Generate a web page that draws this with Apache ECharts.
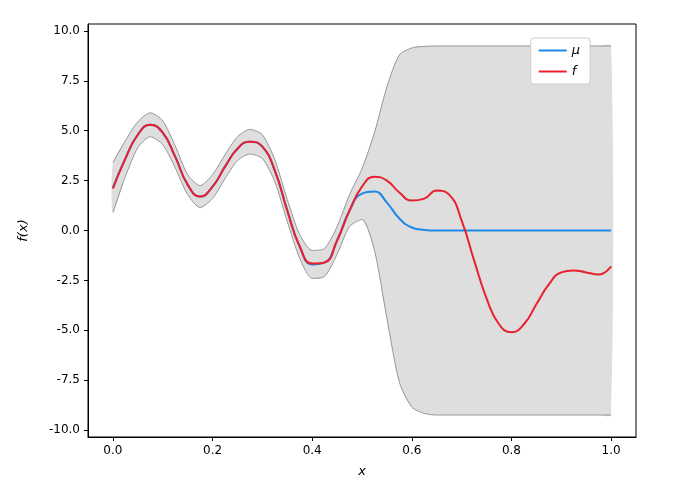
<!DOCTYPE html>
<html><head><meta charset="utf-8">
<script src="https://cdn.jsdelivr.net/npm/echarts@6/dist/echarts.min.js"></script>
<style>body{margin:0}#c{width:676px;height:493px}</style></head>
<body><div id="c"></div>
<script>
const xs = [0,0.025,0.05,0.075,0.1,0.125,0.15,0.175,0.2,0.225,0.25,0.275,0.3,0.325,0.35,0.375,0.4,0.425,0.45,0.475,0.5,0.525,0.55,0.575,0.6,0.625,0.65,0.675,0.7,0.725,0.75,0.775,0.8,0.825,0.85,0.875,0.9,0.925,0.95,0.975,1.0];
const fVals = [2.1,3.6,4.8,5.3,4.9,3.7,2.3,1.7,2.2,3.2,4.1,4.45,4.2,3.0,1.0,-0.8,-1.65,-1.6,-0.5,1.0,2.2,2.7,2.5,1.9,1.5,1.6,2.0,1.8,0.5,-1.5,-3.4,-4.7,-5.1,-4.7,-3.7,-2.7,-2.1,-2.0,-2.1,-2.2,-1.8];
const muVals = [2.15,3.6,4.8,5.3,4.9,3.7,2.3,1.7,2.2,3.2,4.1,4.45,4.2,3.0,1.0,-0.8,-1.7,-1.6,-0.5,1.0,1.85,1.95,1.4,0.6,0.15,0.03,0,0,0,0,0,0,0,0,0,0,0,0,0,0,0];
const upperVals = [3.4,4.5,5.45,5.9,5.5,4.25,2.8,2.25,2.8,3.8,4.7,5.07,4.8,3.55,1.55,-0.2,-1.0,-0.9,0.2,1.8,3.1,4.9,7.2,8.8,9.15,9.23,9.25,9.25,9.25,9.25,9.25,9.25,9.25,9.25,9.25,9.25,9.25,9.25,9.25,9.25,9.25];
const lowerVals = [0.9,2.7,4.15,4.7,4.3,3.15,1.8,1.15,1.6,2.6,3.5,3.83,3.6,2.45,0.45,-1.4,-2.4,-2.3,-1.2,0.2,0.55,-1.0,-4.4,-7.6,-8.85,-9.17,-9.25,-9.25,-9.25,-9.25,-9.25,-9.25,-9.25,-9.25,-9.25,-9.25,-9.25,-9.25,-9.25,-9.25,-9.25];
const xTicks = [0,0.2,0.4,0.6,0.8,1.0];
const yTicks = [-10,-7.5,-5,-2.5,0,2.5,5,7.5,10];
const pair = a => xs.map((x,i)=>[x,a[i]]);
const tf = 'DejaVu Sans';
const chart = echarts.init(document.getElementById('c'));
chart.setOption({
  animation:false,
  textStyle:{fontFamily:tf},
  grid:{left:88,right:40,top:24,bottom:56,show:true,borderColor:'#000',borderWidth:1,backgroundColor:'transparent'},
  legend:{right:86,top:38,orient:'vertical',backgroundColor:'#fff',borderColor:'#ccc',borderWidth:1,borderRadius:3,padding:[6,10,6,8],itemWidth:28,itemHeight:2,itemGap:8,
    textStyle:{fontFamily:tf,fontSize:13,fontStyle:'italic',color:'#000'},
    data:[{name:'μ',icon:'rect'},{name:'f',icon:'rect'}]},
  xAxis:{type:'value',min:-0.05,max:1.05,name:'x',nameLocation:'middle',nameGap:28,nameTextStyle:{fontStyle:'italic',fontSize:13,color:'#000'},
    axisLine:{onZero:false,lineStyle:{color:'#000'}},splitLine:{show:false},
    axisTick:{customValues:xTicks,length:4,lineStyle:{color:'#000'}},
    axisLabel:{customValues:xTicks,formatter:v=>v.toFixed(1),color:'#000',fontSize:12,margin:8}},
  yAxis:{type:'value',min:-10.35,max:10.35,name:'f(x)',nameLocation:'middle',nameGap:58,nameTextStyle:{fontStyle:'italic',fontSize:13,color:'#000'},
    axisLine:{show:true,onZero:false,lineStyle:{color:'#000'}},splitLine:{show:false},
    axisTick:{show:true,customValues:yTicks,length:4,lineStyle:{color:'#000'}},
    axisLabel:{customValues:yTicks,formatter:v=>v.toFixed(1),color:'#000',fontSize:12,margin:8}},
  series:[
    {type:'custom',name:'band',silent:true,data:[[0,0]],
      renderItem:(params,api)=>{
        const pts = xs.map((x,i)=>api.coord([x,upperVals[i]]));
        for(let i=xs.length-1;i>=0;i--) pts.push(api.coord([xs[i],lowerVals[i]]));
        return {type:'polygon',shape:{points:pts,smooth:0.25},style:{fill:'#dedede',stroke:null}};
      }},
    {type:'line',name:'up',data:pair(upperVals),smooth:0.25,symbol:'none',lineStyle:{width:0.8,color:'#808080'}},
    {type:'line',name:'low',data:pair(lowerVals),smooth:0.25,symbol:'none',lineStyle:{width:0.8,color:'#808080'}},
    {type:'line',name:'μ',data:pair(muVals),smooth:true,symbol:'none',itemStyle:{color:'#1e88e5'},lineStyle:{width:2,color:'#1e88e5'}},
    {type:'line',name:'f',data:pair(fVals),smooth:true,symbol:'none',itemStyle:{color:'#e8202f'},lineStyle:{width:2,color:'#e8202f'}}
  ]
});
</script></body></html>
